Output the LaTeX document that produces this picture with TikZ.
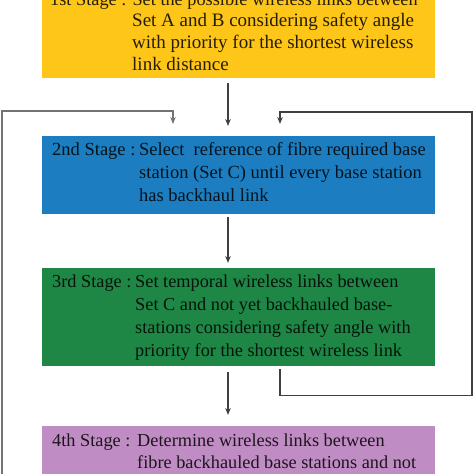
\documentclass[tikz,border=0pt]{standalone}
\usepackage{fontspec}
\setmainfont{Liberation Serif}
\usetikzlibrary{arrows.meta,calc}
\definecolor{cyellow}{HTML}{FFC61A}
\definecolor{cblue}{HTML}{1C7EC0}
\definecolor{cgreen}{HTML}{1E8746}
\definecolor{cpurple}{HTML}{C08CC4}
\newcommand{\lbl}[2]{\makebox[#1][l]{#2}}
\begin{document}
\begin{tikzpicture}[x=1pt,y=-1pt,
  stagebox/.style={rectangle,draw=none,minimum width=393pt,anchor=north west,inner sep=0pt},
  stagetext/.style={anchor=base west,inner sep=0pt,align=left},
  conn/.style={draw=black!75,line width=1.1pt},
  arr/.style={conn,-{Stealth[length=7pt,width=5.5pt]}}]
\useasboundingbox (0,0) rectangle (474,474);
\clip (0,0) rectangle (474,474);
% boxes
\node[stagebox,fill=cyellow,minimum height=110pt] (s1) at (42,-32) {};
\node[stagebox,fill=cblue,minimum height=78pt] (s2) at (42,136) {};
\node[stagebox,fill=cgreen,minimum height=98pt] (s3) at (42,268) {};
\node[stagebox,fill=cpurple,minimum height=80pt] (s4) at (42,426) {};
% texts
\node[stagetext,text=cyellow!15!black,font=\fontsize{19}{21.7}\selectfont] (t1) at (50,5)
 {\begin{tabular}[t]{@{}l@{}l@{}}\multicolumn{2}{@{}l@{}}{\fontsize{18.3}{21.7}\selectfont 1st Stage : Set the possible wireless links between}\\
  \lbl{82pt}{} & Set A and B considering safety angle\\ & with priority for the shortest wireless\\ & link distance\end{tabular}};
\node[stagetext,text=cblue!15!black,font=\fontsize{18.5}{23}\selectfont] (t2) at (52,155)
 {\begin{tabular}[t]{@{}l@{}l@{}}\lbl{87pt}{2nd Stage :} & Select\ \ reference of fibre required base\\
  & station (Set C) until every base station\\ & has backhaul link\end{tabular}};
\node[stagetext,text=cgreen!15!black,font=\fontsize{18.3}{23.3}\selectfont] (t3) at (52,287)
 {\begin{tabular}[t]{@{}l@{}l@{}}\lbl{83pt}{3rd Stage :} & Set temporal wireless links between\\
  & Set C and not yet backhauled base-\\ & stations considering safety angle with\\ & priority for the shortest wireless link\end{tabular}};
\node[stagetext,text=cpurple!15!black,font=\fontsize{18.3}{22}\selectfont] (t4) at (52,446)
 {\begin{tabular}[t]{@{}l@{}l@{}}\lbl{85pt}{4th Stage :} & Determine wireless links between\\
  & fibre backhauled base stations and not\end{tabular}};
% connector helpers
\coordinate (cx) at (228,0);
\coordinate (lx) at (173,0);
\coordinate (rx) at (280,0);
\coordinate (lb) at (2,480);
\coordinate (ltop) at (2,111);
\coordinate (rtop) at (472,112);
\coordinate (rbot) at (472,395.5);
% straight arrows
\draw[arr,shorten <=5pt,shorten >=10pt] (s1.south -| cx) -- (s2.north -| cx);
\draw[arr,shorten <=3pt,shorten >=5pt] (s2.south -| cx) -- (s3.north -| cx);
\draw[arr,shorten <=6pt,shorten >=11pt] (s3.south -| cx) -- (s4.north -| cx);
% left feedback
\draw[arr,draw=black!55,shorten >=12pt] (lb) -- (ltop) -- (ltop -| lx) -- (s2.north -| lx);
% right feedback
\draw[arr,shorten >=12pt] (s3.south -| rx) ++(0,3) -- (rbot -| rx) -- (rbot) -- (rtop) -- (rtop -| rx) -- (s2.north -| rx);
\end{tikzpicture}
\end{document}
